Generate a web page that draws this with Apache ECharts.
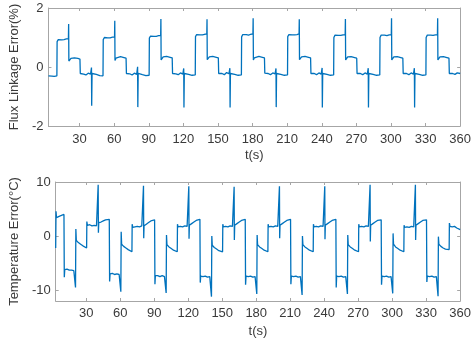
<!DOCTYPE html>
<html><head><meta charset="utf-8">
<script src="https://cdn.jsdelivr.net/npm/echarts@6/dist/echarts.min.js"></script>
<style>html,body{margin:0;padding:0;background:#fff}#c{width:474px;height:340px}</style>
</head><body><div id="c"></div>
<script>
var xTicks = [30,60,90,120,150,180,210,240,270,300,330,360];
var fluxTicks = [-2,0,2];
var tempTicks = [-10,0,10];
var xName = 't(s)';
var fluxName = 'Flux Linkage Error(%)';
var tempName = 'Temperature Error(°C)';

var fluxData = [
[3,-0.3],[4.5,-0.33],[6,-0.31],[8,-0.32],[10.3,-0.3],
[10.5,0.86],[11.5,0.93],[12.5,0.91],[14.5,0.92],[15.5,0.95],[16.5,0.93],[18.5,0.95],[20.3,0.96],[20.5,1.46],[20.7,0.2],[21.5,0.24],[22.5,0.29],[25.5,0.31],[28.5,0.29],[30.3,0.27],[30.6,-0.22],[31.5,-0.26],[33.5,-0.24],[35.5,-0.27],[37.5,-0.21],[39.5,-0.24],[40.3,-0.02],[40.5,-1.31],[40.8,-0.22],[41.5,-0.27],[44.5,-0.25],[47.5,-0.29],[50.3,-0.3],
[50.5,0.93],[51.5,1.0],[52.5,0.98],[54.5,0.99],[55.5,1.03],[56.5,0.99],[58.5,1.01],[60.3,1.02],[60.5,1.57],[60.7,0.22],[61.5,0.3],[62.5,0.33],[65.5,0.35],[68.5,0.32],[70.3,0.3],[70.6,-0.22],[71.5,-0.27],[73.5,-0.23],[75.5,-0.27],[77.5,-0.21],[79.5,-0.25],[80.3,0.01],[80.5,-1.36],[80.8,-0.22],[81.5,-0.28],[84.5,-0.26],[87.5,-0.29],[90.3,-0.28],
[90.5,0.98],[91.5,1.05],[92.5,1.03],[94.5,1.04],[95.5,1.08],[96.5,1.04],[98.5,1.06],[100.3,1.07],[100.5,1.63],[100.7,0.24],[101.5,0.3],[102.5,0.34],[105.5,0.36],[108.5,0.33],[110.3,0.31],[110.6,-0.22],[111.5,-0.27],[113.5,-0.23],[115.5,-0.26],[117.5,-0.2],[119.5,-0.24],[120.3,-0.05],[120.5,-1.37],[120.8,-0.22],[121.5,-0.27],[124.5,-0.25],[127.5,-0.28],[130.3,-0.27],
[130.5,1.03],[131.5,1.1],[132.5,1.07],[134.5,1.09],[135.5,1.13],[136.5,1.09],[138.5,1.11],[140.3,1.12],[140.5,1.62],[140.7,0.25],[141.5,0.31],[142.5,0.34],[145.5,0.36],[148.5,0.33],[150.3,0.31],[150.6,-0.22],[151.5,-0.26],[153.5,-0.22],[155.5,-0.26],[157.5,-0.19],[159.5,-0.23],[160.3,-0.04],[160.5,-1.37],[160.8,-0.22],[161.5,-0.27],[164.5,-0.25],[167.5,-0.28],[170.3,-0.27],
[170.5,1.02],[171.5,1.1],[172.5,1.07],[174.5,1.1],[175.5,1.13],[176.5,1.08],[178.5,1.11],[180.3,1.12],[180.5,1.65],[180.7,0.24],[181.5,0.31],[182.5,0.35],[185.5,0.36],[188.5,0.33],[190.3,0.31],[190.6,-0.21],[191.5,-0.26],[193.5,-0.22],[195.5,-0.26],[197.5,-0.2],[199.5,-0.23],[200.3,-0.05],[200.5,-1.36],[200.8,-0.22],[201.5,-0.27],[204.5,-0.25],[207.5,-0.28],[210.3,-0.27],
[210.5,1.03],[211.5,1.1],[212.5,1.08],[214.5,1.09],[215.5,1.13],[216.5,1.09],[218.5,1.1],[220.3,1.12],[220.5,1.62],[220.7,0.25],[221.5,0.3],[222.5,0.34],[225.5,0.36],[228.5,0.33],[230.3,0.31],[230.6,-0.22],[231.5,-0.26],[233.5,-0.22],[235.5,-0.26],[237.5,-0.2],[239.5,-0.24],[240.3,-0.03],[240.5,-1.37],[240.8,-0.22],[241.5,-0.27],[244.5,-0.25],[247.5,-0.28],[250.3,-0.27],
[250.5,1.0],[251.5,1.08],[252.5,1.06],[254.5,1.07],[255.5,1.11],[256.5,1.07],[258.5,1.09],[260.3,1.1],[260.5,1.63],[260.7,0.24],[261.5,0.3],[262.5,0.34],[265.5,0.35],[268.5,0.32],[270.3,0.3],[270.6,-0.22],[271.5,-0.26],[273.5,-0.22],[275.5,-0.26],[277.5,-0.2],[279.5,-0.24],[280.3,-0.04],[280.5,-1.37],[280.8,-0.22],[281.5,-0.27],[284.5,-0.25],[287.5,-0.28],[290.3,-0.27],
[290.5,1.0],[291.5,1.08],[292.5,1.05],[294.5,1.08],[295.5,1.11],[296.5,1.06],[298.5,1.09],[300.3,1.1],[300.5,1.65],[300.7,0.24],[301.5,0.3],[302.5,0.34],[305.5,0.35],[308.5,0.32],[310.3,0.3],[310.6,-0.22],[311.5,-0.26],[313.5,-0.22],[315.5,-0.26],[317.5,-0.2],[319.5,-0.24],[320.3,-0.04],[320.5,-1.37],[320.8,-0.22],[321.5,-0.27],[324.5,-0.25],[327.5,-0.28],[330.3,-0.27],
[330.5,1.0],[331.5,1.08],[332.5,1.06],[334.5,1.08],[335.5,1.12],[336.5,1.07],[338.5,1.09],[340.3,1.1],[340.5,1.65],[340.7,0.24],[341.5,0.3],[342.5,0.34],[345.5,0.35],[348.5,0.32],[350.3,0.3],[350.6,-0.22],[351.5,-0.26],[353.5,-0.22],[355.5,-0.25],[357.5,-0.2],[360,-0.22]
];

var tempData = [
[3,-2.2],[3.3,4.6],[3.7,3.4],[5,3.6],[6.5,3.7],[8,3.9],[10.3,4.0],
[10.6,-7.6],[11,-6.2],[13,-6.1],[15,-6.3],[17,-6.3],[19,-6.4],[20.3,-6.5],[20.5,-9.5],[20.8,1.3],[21.2,-0.8],[23,-1.2],[25,-1.5],[27,-1.8],[30.3,-2.2],[30.5,2.7],[31,2.0],[33,2.1],[35,1.9],[37,2.0],[39,1.9],[40.3,2.1],[40.5,9.5],[40.7,0.6],[41,2.5],[43,2.6],[45,2.8],[47,3.0],[50.3,3.1],
[50.6,-8.4],[51,-7.0],[53,-6.9],[55,-7.1],[57,-7.0],[59,-7.1],[60.3,-7.2],[60.5,-10.3],[60.8,0.8],[61.2,-1.5],[63,-1.9],[65,-2.2],[67,-2.5],[70.3,-2.9],[70.5,2.2],[71,1.6],[73,1.7],[75,1.8],[77,1.7],[79,1.9],[80.3,1.9],[80.5,9.3],[80.7,-0.4],[81,1.9],[83,2.2],[85,2.5],[87,2.8],[90.3,3.0],
[90.6,-8.9],[91,-7.3],[93,-7.3],[95,-7.5],[97,-7.3],[99,-7.5],[100.3,-7.5],[100.5,-10.5],[100.8,0.2],[101.2,-1.6],[103,-2.0],[105,-2.3],[107,-2.6],[110.3,-2.9],[110.5,2.2],[111,1.7],[113,1.8],[115,1.7],[117,1.9],[119,1.8],[120.3,1.9],[120.5,9.2],[120.7,-0.5],[121,2.0],[123,2.3],[125,2.6],[127,2.9],[130.3,3.1],
[130.6,-8.6],[131,-7.4],[133,-7.5],[135,-7.4],[137,-7.6],[139,-7.5],[140.3,-7.6],[140.5,-11.2],[140.8,0.0],[141.2,-1.7],[143,-2.1],[145,-2.4],[147,-2.7],[150.3,-2.9],[150.5,2.2],[151,1.7],[153,1.8],[155,1.7],[157,1.9],[159,1.8],[160.3,1.9],[160.5,9.1],[160.7,-0.7],[161,2.0],[163,2.3],[165,2.6],[167,2.9],[170.3,3.1],
[170.6,-9.0],[171,-7.4],[173,-7.5],[175,-7.4],[177,-7.6],[179,-7.5],[180.3,-7.6],[180.5,-10.7],[180.8,0.2],[181.2,-1.6],[183,-2.0],[185,-2.3],[187,-2.6],[190.3,-2.9],[190.5,2.2],[191,1.7],[193,1.8],[195,1.7],[197,1.9],[199,1.8],[200.3,1.9],[200.5,9.2],[200.7,-0.4],[201,2.0],[203,2.3],[205,2.6],[207,2.9],[210.3,3.1],
[210.6,-8.9],[211,-7.4],[213,-7.5],[215,-7.4],[217,-7.6],[219,-7.5],[220.3,-7.6],[220.5,-10.9],[220.8,0.0],[221.2,-1.6],[223,-2.0],[225,-2.3],[227,-2.6],[230.3,-2.9],[230.5,2.2],[231,1.7],[233,1.8],[235,1.7],[237,1.9],[239,1.8],[240.3,1.9],[240.5,9.2],[240.7,-0.6],[241,2.0],[243,2.3],[245,2.6],[247,2.9],[250.3,3.1],
[250.6,-9.5],[251,-7.4],[253,-7.5],[255,-7.4],[257,-7.6],[259,-7.5],[260.3,-7.6],[260.5,-10.7],[260.8,0.2],[261.2,-1.6],[263,-2.0],[265,-2.3],[267,-2.6],[270.3,-2.9],[270.5,2.2],[271,1.7],[273,1.8],[275,1.7],[277,1.9],[279,1.8],[280.3,1.9],[280.5,9.5],[280.7,-1.0],[281,2.0],[283,2.3],[285,2.6],[287,2.9],[290.3,3.0],
[290.6,-9.0],[291,-7.4],[293,-7.5],[295,-7.4],[297,-7.6],[299,-7.5],[300.3,-7.6],[300.5,-10.6],[300.8,0.5],[301.2,-1.5],[303,-2.0],[305,-2.3],[307,-2.6],[310.3,-2.9],[310.5,2.0],[311,1.6],[313,1.7],[315,1.6],[317,1.8],[319,1.7],[320.3,1.8],[320.5,9.5],[320.7,-0.7],[321,2.0],[323,2.3],[325,2.6],[327,2.9],[330.3,3.0],
[330.6,-8.5],[331,-7.4],[333,-7.5],[335,-7.4],[337,-7.6],[339,-7.5],[340.3,-7.6],[340.5,-11.1],[340.8,-0.1],[341.2,-1.5],[343,-1.9],[345,-2.2],[347,-2.4],[350.3,-2.5],[350.5,2.4],[351,1.8],[353,1.7],[355,1.8],[357,1.5],[360,1.2]
];

var FONT = "'Liberation Sans', Arial, sans-serif";
var AXC = '#a6a6a6';
var TXT = '#3a3a3a';
var LINE = '#0072BD';
var FS = 13;

function mkX(gi, ticks, bottomGap, labMargin) {
  return [{
    type:'value', gridIndex:gi, min:3, max:360, position:'bottom',
    name:xName, nameLocation:'middle', nameGap:bottomGap,
    nameTextStyle:{color:TXT, fontSize:FS, fontFamily:FONT},
    axisLine:{show:true, onZero:false, lineStyle:{color:AXC, width:1}},
    axisTick:{show:true, inside:true, length:3, customValues:ticks, lineStyle:{color:AXC}},
    axisLabel:{show:true, customValues:ticks, color:TXT, fontSize:FS, fontFamily:FONT, margin:labMargin},
    splitLine:{show:false}
  },{
    type:'value', gridIndex:gi, min:3, max:360, position:'top',
    axisLine:{show:true, onZero:false, lineStyle:{color:AXC, width:1}},
    axisTick:{show:true, inside:true, length:3, customValues:ticks, lineStyle:{color:AXC}},
    axisLabel:{show:false, customValues:ticks},
    splitLine:{show:false}
  }];
}
function mkY(gi, mn, mx, ticks, nm) {
  return [{
    type:'value', gridIndex:gi, min:mn, max:mx, position:'left',
    name:nm, nameLocation:'middle', nameGap:26, nameRotate:90,
    nameTextStyle:{color:TXT, fontSize:FS, fontFamily:FONT},
    axisLine:{show:true, onZero:false, lineStyle:{color:AXC, width:1}},
    axisTick:{show:true, inside:true, length:3, customValues:ticks, lineStyle:{color:AXC}},
    axisLabel:{show:true, customValues:ticks, color:TXT, fontSize:FS, fontFamily:FONT, margin:5},
    splitLine:{show:false}
  },{
    type:'value', gridIndex:gi, min:mn, max:mx, position:'right',
    axisLine:{show:true, onZero:false, lineStyle:{color:AXC, width:1}},
    axisTick:{show:true, inside:true, length:3, customValues:ticks, lineStyle:{color:AXC}},
    axisLabel:{show:false, customValues:ticks},
    splitLine:{show:false}
  }];
}

var chart = echarts.init(document.getElementById('c'), null, {renderer:'canvas'});
chart.setOption({
  animation:false,
  backgroundColor:'#fff',
  grid:[
    {left:41, right:12, top:8, height:118, containLabel:false},
    {left:41, right:12, top:182, height:119, containLabel:false}
  ],
  xAxis: mkX(0, xTicks, 23, 7).concat(mkX(1, xTicks, 24, 6)),
  yAxis: mkY(0, -2, 2, fluxTicks, fluxName).concat(mkY(1, -12, 10, tempTicks, tempName)),
  series:[
    {type:'line', xAxisIndex:0, yAxisIndex:0, data:fluxData, showSymbol:false, symbol:'none',
     lineStyle:{color:LINE, width:1.3}, clip:true},
    {type:'line', xAxisIndex:2, yAxisIndex:2, data:tempData, showSymbol:false, symbol:'none',
     lineStyle:{color:LINE, width:1.3}, clip:true}
  ]
});
</script></body></html>
